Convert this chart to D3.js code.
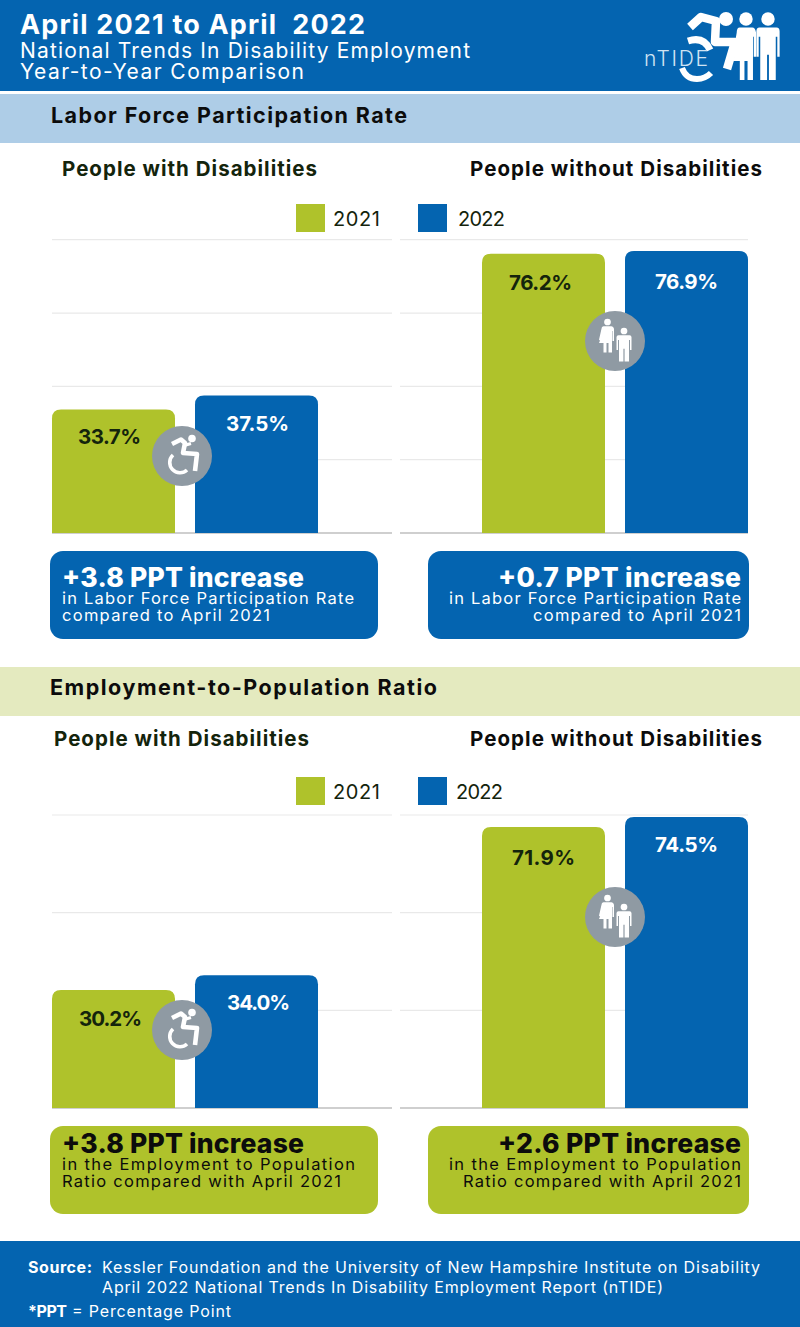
<!DOCTYPE html>
<html>
<head>
<meta charset="utf-8">
<script src="https://cdn.jsdelivr.net/npm/d3@7"></script>
<style>
html, body { margin: 0; padding: 0; background: #fff; }
svg { display: block; }
text { font-family: Inter, "Open Sans", sans-serif; white-space: pre; }
</style>
</head>
<body>
<div id="chart"></div>
<script>
// data
var years = ["2021", "2022"];
var groups = ["People with Disabilities", "People without Disabilities"];
var lfprWith = [33.7, 37.5];
var lfprWithout = [76.2, 76.9];
var eprWith = [30.2, 34.0];
var eprWithout = [71.9, 74.5];
var lfprTicks = [0, 20, 40, 60, 80];
var eprTicks = [0, 25, 50, 75];

var blue = "#0464b0", green = "#afc22b", grey = "#8f9aa3", dark = "#14240c";
var yearColor = d3.scaleOrdinal().domain(years).range([green, blue]);

var svg = d3.select("#chart").append("svg")
  .attr("width", 800)
  .attr("height", 1327);

// text helper, width is the length the string should span in the picture
function label(str, x, y, size, weight, fill, width, anchor) {
  return svg.append("text")
    .attr("x", x).attr("y", y)
    .attr("font-size", size)
    .attr("font-weight", weight)
    .attr("fill", fill)
    .attr("text-anchor", anchor || "start")
    .attr("textLength", width)
    .attr("lengthAdjust", "spacing")
    .text(str);
}

function rect(x, y, w, h, fill, r) {
  return svg.append("rect").attr("x", x).attr("y", y).attr("width", w).attr("height", h)
    .attr("rx", r || 0).attr("fill", fill);
}

// bar with only the top corners rounded
function barPath(x, y, w, y0, r) {
  return "M" + x + "," + y0 + "V" + (y + r) + "Q" + x + "," + y + " " + (x + r) + "," + y +
    "H" + (x + w - r) + "Q" + (x + w) + "," + y + " " + (x + w) + "," + (y + r) + "V" + y0 + "Z";
}

function panel(values, ticks, xRange, gridRange, yRange, domainMax) {
  var x = d3.scaleBand().domain(years).range(xRange).paddingInner(20 / 143);
  var y = d3.scaleLinear().domain([0, domainMax]).range(yRange);

  // gridlines
  svg.append("g").selectAll("line").data(ticks).enter().append("line")
    .attr("x1", gridRange[0]).attr("x2", gridRange[1])
    .attr("y1", function (d) { return y(d); })
    .attr("y2", function (d) { return y(d); })
    .attr("stroke", function (d) { return d === 0 ? "#cfcfcf" : "#e9e9e9"; })
    .attr("stroke-width", function (d) { return d === 0 ? 2 : 1.2; });

  // bars
  svg.append("g").selectAll("path").data(values).enter().append("path")
    .attr("d", function (d, i) { return barPath(x(years[i]), y(d), x.bandwidth(), y(0), 9); })
    .attr("fill", function (d, i) { return yearColor(years[i]); });

  return { x: x, y: y };
}

function valueLabels(p, values, offsets) {
  values.forEach(function (v, i) {
    label(v.toFixed(1) + "%", p.x(years[i]) + p.x.bandwidth() / 2 + offsets[i][0], p.y(v) + offsets[i][1], 20.5, 700,
      i === 0 ? dark : "#fff", 63, "middle");
  });
}

function legend(y, x2) {
  rect(296, y, 29, 28, yearColor(years[0]));
  rect(418, y, 29, 28, yearColor(years[1]));
  label(years[0], 333, y + 22, 20, 400, dark, 47);
  label(years[1], x2, y + 22, 20, 400, dark, 47);
}

// one block of text for a callout box: big line then two small lines
function callout(x, y, w, h, fill, textFill, textX, anchor, lines) {
  rect(x, y, w, h, fill, 13);
  var t = svg.append("text").attr("fill", textFill).attr("text-anchor", anchor);
  lines.forEach(function (l) {
    t.append("tspan")
      .attr("x", textX).attr("y", l.y)
      .attr("font-size", l.size)
      .attr("font-weight", l.weight)
      .attr("textLength", l.width)
      .attr("lengthAdjust", "spacing")
      .text(l.text);
  });
}

// wheelchair symbol on a grey disc
function wheelBadge(cx, cy) {
  var g = svg.append("g").attr("transform", "translate(" + cx + "," + cy + ")");
  g.append("circle").attr("r", 30).attr("fill", grey);
  g.append("circle").attr("cx", 10).attr("cy", -17.5).attr("r", 3.8).attr("fill", "#fff");
  g.append("path")
    .attr("d", "M-10,-12L-1,-16.5L3,-13L1,-3L15,-2L13,15")
    .attr("fill", "none").attr("stroke", "#fff").attr("stroke-width", 4.6).attr("stroke-linejoin", "round");
  g.append("path")
    .attr("d", "M2,-10.5L9,-12.5")
    .attr("fill", "none").attr("stroke", "#fff").attr("stroke-width", 3);
  g.append("path")
    .attr("d", "M-9,-1A10.2,10.2 0 1 0 5,14")
    .attr("fill", "none").attr("stroke", "#fff").attr("stroke-width", 3.6);
}

var manPath = "M-5.5,4H5.5Q7.5,4 7.5,6V18H6V8.5H5V29H0.6V17H-0.6V29H-5V8.5H-6V18H-7.5V6Q-7.5,4 -5.5,4Z";
var womanPath = "M-4,4H4Q6,4 6.5,6.5V18H5V8.5H4.5V29H1V20H-1V29H-4V20H-8.5L-3.5,8.5L-7,18L-8.5,17L-6,6.5Q-6,4 -4,4Z";

function person(g, hx, hy, d, sx, sy, fill) {
  g.append("circle").attr("cx", hx).attr("cy", hy).attr("r", 3.2 * sy).attr("fill", fill);
  g.append("path")
    .attr("transform", "translate(" + hx + "," + hy + ") scale(" + sx + "," + sy + ")")
    .attr("d", d).attr("fill", fill);
}

function peopleBadge(cx, cy) {
  var g = svg.append("g").attr("transform", "translate(" + cx + "," + cy + ")");
  g.append("circle").attr("r", 30).attr("fill", grey);
  person(g, -7.5, -19, womanPath, 1, 1.05, "#fff");
  person(g, 9, -10, manPath, 1, 1.05, "#fff");
}

// header
rect(0, 0, 800, 91, blue);
label("April 2021 to April  2022", 20, 33.5, 27, 700, "#fff", 345);
label("National Trends In Disability Employment", 20, 58, 21, 400, "#fff", 450);
label("Year-to-Year Comparison", 20, 79, 21, 400, "#fff", 284);

// logo in the header
var logo = svg.append("g");
logo.append("path")
  .attr("d", "M690,27L701,17L716,21L715,42L735,42L727,69")
  .attr("fill", "none").attr("stroke", "#fff").attr("stroke-width", 8.5).attr("stroke-linejoin", "round");
logo.append("path")
  .attr("d", "M688,41Q704,36 710,50")
  .attr("fill", "none").attr("stroke", "#fff").attr("stroke-width", 7);
logo.append("path")
  .attr("d", "M682,68Q686,79 697,79Q705,79 711,73")
  .attr("fill", "none").attr("stroke", "#fff").attr("stroke-width", 6);
logo.append("circle").attr("cx", 726).attr("cy", 19).attr("r", 7).attr("fill", "#fff");
person(logo, 746, 19, womanPath, 1.55, 2.1, "#fff");
person(logo, 768, 19, manPath, 1.55, 2.1, "#fff");
label("nTIDE", 644, 66, 21, 300, "#cfe3f3", 64);

// first section
rect(0, 94, 800, 49, "#aecde7");
label("Labor Force Participation Rate", 51, 123, 21.5, 700, "#0c0c0c", 356);
label(groups[0], 62, 176, 20.5, 700, dark, 255);
label(groups[1], 470, 176, 20.5, 700, "#0c0c0c", 292);
legend(204, 458);

var p1 = panel(lfprWith, lfprTicks, [52, 318], [52, 392], [533, 239.7], 80);
var p2 = panel(lfprWithout, lfprTicks, [482, 748], [400, 748], [533, 239.7], 80);
valueLabels(p1, lfprWith, [[-4, 35], [1, 35]]);
valueLabels(p2, lfprWithout, [[-3, 36], [0, 38]]);
wheelBadge(182, 456);
peopleBadge(615, 341);

callout(50, 551, 328, 88, blue, "#fff", 62, "start", [
  { text: "+3.8 PPT increase", y: 587, size: 26.5, weight: 800, width: 242 },
  { text: "in Labor Force Participation Rate", y: 604, size: 16.5, weight: 400, width: 292 },
  { text: "compared to April 2021", y: 621, size: 16.5, weight: 400, width: 208 }
]);
callout(428, 551, 321, 88, blue, "#fff", 741, "end", [
  { text: "+0.7 PPT increase", y: 587, size: 26.5, weight: 800, width: 243 },
  { text: "in Labor Force Participation Rate", y: 604, size: 16.5, weight: 400, width: 292 },
  { text: "compared to April 2021", y: 621, size: 16.5, weight: 400, width: 208 }
]);

// second section
rect(0, 667, 800, 49, "#e4eabf");
label("Employment-to-Population Ratio", 50, 695, 21.5, 700, "#0c0c0c", 387);
label(groups[0], 54, 746, 20.5, 700, dark, 255);
label(groups[1], 470, 746, 20.5, 700, "#0c0c0c", 292);
legend(777, 456);

var p3 = panel(eprWith, eprTicks, [52, 318], [52, 392], [1108, 815], 75);
var p4 = panel(eprWithout, eprTicks, [482, 748], [400, 748], [1108, 815], 75);
valueLabels(p3, eprWith, [[-3, 36], [2, 35]]);
valueLabels(p4, eprWithout, [[0, 38], [0, 35]]);
wheelBadge(182, 1030);
peopleBadge(615, 917);

callout(50, 1126, 328, 88, green, "#0c0c0c", 62, "start", [
  { text: "+3.8 PPT increase", y: 1153, size: 26.5, weight: 800, width: 242 },
  { text: "in the Employment to Population", y: 1170, size: 16.5, weight: 400, width: 293 },
  { text: "Ratio compared with April 2021", y: 1187, size: 16.5, weight: 400, width: 279 }
]);
callout(428, 1126, 321, 88, green, "#0c0c0c", 741, "end", [
  { text: "+2.6 PPT increase", y: 1153, size: 26.5, weight: 800, width: 243 },
  { text: "in the Employment to Population", y: 1170, size: 16.5, weight: 400, width: 292 },
  { text: "Ratio compared with April 2021", y: 1187, size: 16.5, weight: 400, width: 278 }
]);

// footer
rect(0, 1241, 800, 86, blue);
label("Source:", 28, 1273, 16, 700, "#fff", 64);
label("Kessler Foundation and the University of New Hampshire Institute on Disability", 102, 1273, 16, 400, "#fff", 658);
label("April 2022 National Trends In Disability Employment Report (nTIDE)", 102, 1293, 16, 400, "#fff", 561);
label("*PPT", 28, 1317, 16, 700, "#fff", 39);
label("= Percentage Point", 72, 1317, 16, 400, "#fff", 159);
</script>
</body>
</html>
